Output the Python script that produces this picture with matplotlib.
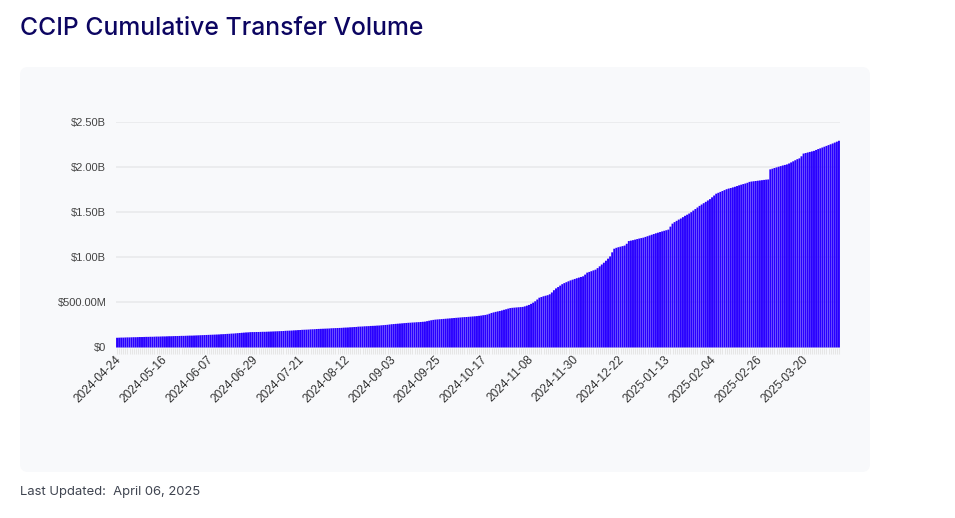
import matplotlib
matplotlib.use("Agg")
import matplotlib.pyplot as plt
from matplotlib.patches import FancyBboxPatch
from matplotlib.transforms import ScaledTranslation
import numpy as np
import pandas as pd

TITLE = "CCIP Cumulative Transfer Volume"
UPDATED = "Last Updated:  April 06, 2025"
START_DATE = "2024-04-24"
TICK_STEP = 22
Y_TICKS = [0, 500, 1000, 1500, 2000, 2500]
Y_LABELS = ["$0", "$500.00M", "$1.00B", "$1.50B", "$2.00B", "$2.50B"]

# cumulative volume, $ millions, one bar per day
volume = [
    108,109,110,110,111,112,112,113,114,114,
    115,116,116,117,118,118,119,119,120,121,
    121,122,123,123,124,125,125,126,127,127,
    128,129,129,130,131,132,132,133,134,135,
    136,137,138,139,140,141,142,143,144,145,
    147,148,149,151,152,154,155,157,159,161,
    163,165,167,168,170,171,171,172,172,173,
    174,174,175,176,177,178,179,180,181,182,
    183,185,186,187,188,190,191,193,194,196,
    197,198,199,201,202,203,205,206,207,208,
    209,210,211,213,214,215,216,217,218,220,
    221,222,224,225,227,228,231,232,233,235,
    236,237,239,240,241,243,244,246,248,250,
    252,255,258,260,262,264,266,268,270,272,
    274,275,277,278,280,281,283,285,287,292,
    297,302,306,309,311,313,315,317,319,321,
    323,325,327,329,331,333,335,337,338,340,
    342,344,346,348,351,354,358,361,366,374,
    383,389,395,400,405,411,418,424,431,437,
    440,442,444,446,448,450,456,464,472,484,
    497,512,532,552,560,568,574,580,590,610,
    635,655,670,686,702,714,724,734,744,752,
    760,768,775,782,789,808,830,838,846,855,
    863,880,900,920,940,962,985,1010,1055,1095,
    1105,1112,1118,1124,1130,1150,1180,1185,1190,1196,
    1202,1208,1213,1218,1226,1234,1242,1250,1258,1266,
    1273,1280,1287,1294,1300,1307,1340,1373,1390,1404,
    1418,1430,1445,1460,1472,1485,1500,1518,1535,1552,
    1570,1585,1600,1615,1630,1645,1665,1685,1705,1715,
    1725,1735,1745,1755,1762,1768,1775,1782,1790,1798,
    1805,1812,1818,1826,1836,1840,1843,1846,1849,1852,
    1855,1858,1861,1863,1975,1982,1990,1997,2004,2011,
    2018,2024,2030,2040,2052,2064,2076,2088,2097,2120,
    2150,2156,2162,2168,2174,2180,2190,2200,2208,2217,
    2226,2235,2244,2253,2262,2272,2282,2292,
]
dates = pd.date_range(START_DATE, periods=len(volume)).strftime("%Y-%m-%d").tolist()

W, H = 955, 518
fig = plt.figure(figsize=(W / 100, H / 100), dpi=100, facecolor="white")

bg = fig.add_axes([0, 0, 1, 1], zorder=0)
bg.set_xlim(0, W); bg.set_ylim(H, 0); bg.axis("off")
bg.add_patch(FancyBboxPatch((20, 67), 850, 405, boxstyle="round,pad=0,rounding_size=8",
                            mutation_aspect=1, linewidth=0, facecolor="#f8f9fb"))
bg.text(20, 28.5, TITLE, fontsize=17.8, color="#0c0561", family="Inter", va="center", ha="left", fontweight="medium")
bg.text(20, 491.5, UPDATED, fontsize=9.4, color="#3f4450", family="Inter", va="center", ha="left")

ax = fig.add_axes([116 / W, 1 - 347.5 / H, 724 / W, 225.5 / H], zorder=1)
ax.patch.set_alpha(0)
x = np.arange(len(volume))
bars = ax.bar(x, volume, width=0.93, color="#2800ff", linewidth=0, zorder=3)
for b in bars:
    b.set_snap(False)
ax.set_xlim(-0.5, len(volume) - 0.5)
ax.set_ylim(0, 2500)
ax.set_yticks(Y_TICKS)
ax.set_yticklabels(Y_LABELS, family="Liberation Sans", fontsize=8, color="#444444")
ax.grid(axis="y", color="#e8e9eb", linewidth=1.1, zorder=1)
ax.tick_params(axis="y", length=0, pad=7)
ax.set_xticks(x)
ax.set_xticklabels([d if i % TICK_STEP == 0 else "" for i, d in enumerate(dates)],
                   rotation=45, ha="right", rotation_mode="anchor",
                   family="Liberation Sans", fontsize=8.6, color="#333333")
ax.tick_params(axis="x", length=4.4, width=0.75, color="#e6e6e6", pad=0)
shift = ScaledTranslation(-2 / 100, 0, fig.dpi_scale_trans)
for lab in ax.get_xticklabels():
    lab.set_transform(lab.get_transform() + shift)
for s in ax.spines.values():
    s.set_visible(False)

fig.savefig("out.png", dpi=100)
